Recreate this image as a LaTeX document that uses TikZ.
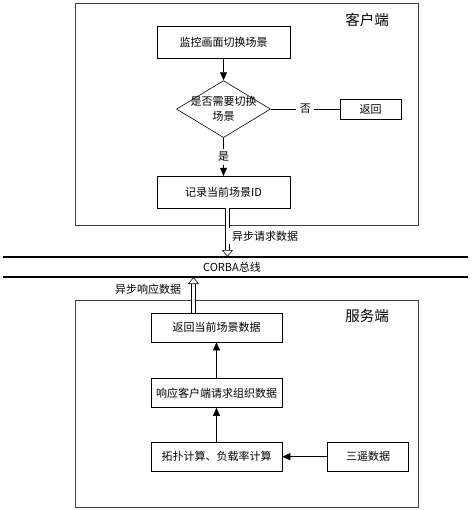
\documentclass[tikz,border=0pt]{standalone}
\usepackage{fontspec}
\setmainfont{Noto Sans CJK SC}
\usetikzlibrary{shapes.geometric, arrows.meta, positioning}

\begin{document}
\begin{tikzpicture}[x=1pt, y=-1pt, node distance=30pt, every node/.style={fill=white, font=\fontsize{11pt}{13pt}\selectfont}, align=center,
  stepbox/.style={draw, rectangle, line width=0.6pt, minimum width=133pt, minimum height=32pt, inner sep=2pt},
  servbox/.style={stepbox, minimum width=131pt, minimum height=29pt},
  decision/.style={draw, diamond, line width=0.6pt, minimum width=94pt, minimum height=57pt, inner sep=0pt},
  frame/.style={draw=black!75, line width=0.8pt, minimum width=343pt, inner sep=0pt},
  flow/.style={-{Triangle[length=8pt, width=7pt]}, line width=0.6pt},
  dataflow/.style={double, double distance=3pt, line width=0.6pt, -{Triangle[open, length=7pt, width=11pt]}},
  bus/.style={line width=2pt},
  tag/.style={font=\fontsize{14.5pt}{16pt}\selectfont}]
  \useasboundingbox (0,0) rectangle (474,510);

  % client side
  \node (client) [frame, minimum height=222pt] at (246.5,114) {};
  \node (clienttag) [tag] at (367,20) {客户端};
  \node (watch) [stepbox] at (223.5,42) {监控画面切换场景};
  \node (judge) [decision, below=22pt of watch, label={[fill=none, font=\fontsize{11pt}{15pt}\selectfont]center:{是否需要切换\\场景}}] {};
  \node (back) [stepbox, minimum width=61pt, minimum height=20pt, right=69pt of judge] {返回};
  \node (record) [stepbox, below=38pt of judge] {记录当前场景ID};

  \draw [flow] (watch) -- (judge);
  \draw [flow] (judge) -- node {是} (record);
  \draw [line width=0.6pt] (judge) -- node {否} (back);

  % CORBA bus
  \coordinate (upperbus) at (3,257);
  \coordinate (lowerbus) at (3,277);
  \draw [bus] (upperbus) -- ++(465,0);
  \draw [bus] (lowerbus) -- ++(465,0);
  \node (bus) at (232,267) {CORBA总线};

  % server side
  \node (server) [frame, minimum height=207pt] at (246.5,403.5) {};
  \node (servertag) [tag] at (367,316) {服务端};
  \node (reply) [servbox] at (216.5,327.5) {返回当前场景数据};
  \node (organize) [servbox, below=36pt of reply] {响应客户端请求组织数据};
  \node (compute) [servbox, below=34pt of organize] {拓扑计算、负载率计算};
  \node (telemetry) [servbox, minimum width=81pt, right=45pt of compute] {三遥数据};

  \draw [flow] (compute) -- (organize);
  \draw [flow] (organize) -- (reply);
  \draw [flow] (telemetry) -- (compute);

  % asynchronous data
  \draw [dataflow] ([xshift=4pt]record.south) -- ([xshift=4pt]record.south |- upperbus);
  \node (reqlabel) at (265,236) {异步请求数据};
  \draw [dataflow] ([xshift=-23pt]reply.north) -- ([xshift=-23pt]reply.north |- lowerbus);
  \node (resplabel) at (148,289) {异步响应数据};
\end{tikzpicture}
\end{document}
